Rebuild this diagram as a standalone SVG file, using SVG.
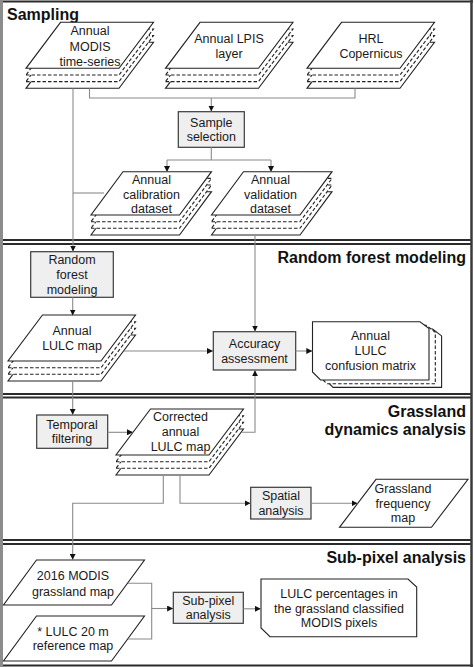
<svg xmlns="http://www.w3.org/2000/svg" xmlns:xlink="http://www.w3.org/1999/xlink" width="474" height="667" viewBox="0 0 474 667">
<style>
.frame{stroke:#2b2b2b;stroke-width:2;fill:none}
.title{font-family:"Liberation Sans",Arial,sans-serif;font-size:16px;font-weight:bold;fill:#111}
.t{font-family:"Liberation Sans",Arial,sans-serif;font-size:12.5px;fill:#1a1a1a;text-anchor:middle}
.box{fill:#efefef;stroke:#3a3a3a;stroke-width:1.2}
.sol{fill:#fff;stroke:#222;stroke-width:1.1}
.dash{fill:#fff;stroke:#222;stroke-width:1.1;stroke-dasharray:3.5 2}
.con{fill:none;stroke:#8a8a8a;stroke-width:1.1}
.arr{marker-end:url(#ah)}
</style>
<defs>
<marker id="ah" markerUnits="userSpaceOnUse" markerWidth="7" markerHeight="6" refX="6" refY="3" orient="auto">
<path d="M0,0 L6,3 L0,6 Z" fill="#111"/>
</marker>
<polygon id="pgA" points="0,0 93,0 127.5,-46 34.5,-46"/>
<polygon id="pgB" points="0,0 88.5,0 120.5,-43.3 32,-43.3"/>
<path id="docA" d="M0,0 H107.5 L116.5,6.8 V58.3 H8 L0,50.3 Z"/>
</defs>

<g id="frame">
<rect x="0" y="0" width="474" height="667" fill="#fff"/>
<line class="frame" x1="0" y1="1.5" x2="473" y2="1.5" stroke-width="3"/>
<line class="frame" x1="0" y1="240" x2="472" y2="240"/>
<line class="frame" x1="0" y1="244" x2="472" y2="244"/>
<line class="frame" x1="0" y1="394" x2="472" y2="394"/>
<line class="frame" x1="0" y1="397.5" x2="472" y2="397.5"/>
<line class="frame" x1="0" y1="540" x2="472" y2="540"/>
<line class="frame" x1="0" y1="544" x2="472" y2="544"/>
<line class="frame" x1="0" y1="665.5" x2="473" y2="665.5"/>
<line x1="1.5" y1="0" x2="1.5" y2="667" stroke="#8c8c8c" stroke-width="3"/>
<line x1="471.5" y1="0" x2="471.5" y2="667" stroke="#3a3a3a" stroke-width="2.5"/>
</g>

<g id="titles">
<text class="title" x="7" y="20">Sampling</text>
<text class="title" x="466" y="263" text-anchor="end">Random forest modeling</text>
<text class="title" x="466" y="416.5" text-anchor="end">Grassland</text>
<text class="title" x="466" y="434.5" text-anchor="end">dynamics analysis</text>
<text class="title" x="466" y="563" text-anchor="end">Sub-pixel analysis</text>
</g>

<g id="modis-ts">
<use href="#pgA" x="26" y="88.3" class="sol"/>
<use href="#pgA" x="26" y="81.6" class="dash"/>
<use href="#pgA" x="26" y="75" class="dash"/>
<use href="#pgA" x="26" y="68.3" class="sol"/>
<text class="t" x="90" y="35">Annual</text>
<text class="t" x="90" y="50.5">MODIS</text>
<text class="t" x="90" y="65.5">time-series</text>
</g>

<g id="lpis">
<use href="#pgA" x="165.5" y="88.3" class="sol"/>
<use href="#pgA" x="165.5" y="81.6" class="dash"/>
<use href="#pgA" x="165.5" y="75" class="dash"/>
<use href="#pgA" x="165.5" y="68.3" class="sol"/>
<text class="t" x="229" y="43">Annual LPIS</text>
<text class="t" x="229" y="58">layer</text>
</g>

<g id="hrl">
<use href="#pgA" x="307" y="88.3" class="sol"/>
<use href="#pgA" x="307" y="81.6" class="dash"/>
<use href="#pgA" x="307" y="75" class="dash"/>
<use href="#pgA" x="307" y="68.3" class="sol"/>
<text class="t" x="371" y="43">HRL</text>
<text class="t" x="371" y="58">Copernicus</text>
</g>

<g id="sample-selection">
<rect class="box" x="178.3" y="111.7" width="66" height="35.6"/>
<text class="t" x="211.3" y="127">Sample</text>
<text class="t" x="211.3" y="141">selection</text>
</g>

<g id="calibration">
<use href="#pgB" x="91" y="235" class="sol"/>
<use href="#pgB" x="91" y="228.3" class="dash"/>
<use href="#pgB" x="91" y="221.7" class="dash"/>
<use href="#pgB" x="91" y="215" class="sol"/>
<text class="t" x="151.5" y="184">Annual</text>
<text class="t" x="151.5" y="198.5">calibration</text>
<text class="t" x="151.5" y="213">dataset</text>
</g>

<g id="validation">
<use href="#pgB" x="211.5" y="235" class="sol"/>
<use href="#pgB" x="211.5" y="228.3" class="dash"/>
<use href="#pgB" x="211.5" y="221.7" class="dash"/>
<use href="#pgB" x="211.5" y="215" class="sol"/>
<text class="t" x="270.5" y="184">Annual</text>
<text class="t" x="270.5" y="198.5">validation</text>
<text class="t" x="270.5" y="213">dataset</text>
</g>

<g id="rf-modeling">
<rect class="box" x="30.7" y="251.7" width="82.6" height="45.6"/>
<text class="t" x="72" y="264">Random</text>
<text class="t" x="72" y="279">forest</text>
<text class="t" x="72" y="293.5">modeling</text>
</g>

<g id="lulc-map">
<use href="#pgA" x="8" y="381" class="sol"/>
<use href="#pgA" x="8" y="374.3" class="dash"/>
<use href="#pgA" x="8" y="367.7" class="dash"/>
<use href="#pgA" x="8" y="361" class="sol"/>
<text class="t" x="72" y="335">Annual</text>
<text class="t" x="72" y="350">LULC map</text>
</g>

<g id="accuracy">
<rect class="box" x="213.3" y="331.7" width="82.4" height="38.3"/>
<text class="t" x="254.5" y="348">Accuracy</text>
<text class="t" x="254.5" y="363">assessment</text>
</g>

<g id="confusion">
<use href="#docA" x="325.1" y="329.1" class="sol"/>
<use href="#docA" x="318.8" y="325.4" class="dash"/>
<use href="#docA" x="312.5" y="321.7" class="sol"/>
<text class="t" x="370.5" y="340">Annual</text>
<text class="t" x="370.5" y="355">LULC</text>
<text class="t" x="370.5" y="370">confusion matrix</text>
</g>

<g id="temporal">
<rect class="box" x="36.7" y="415" width="71" height="33.3"/>
<text class="t" x="72" y="428.5">Temporal</text>
<text class="t" x="72" y="443">filtering</text>
</g>

<g id="corrected">
<use href="#pgA" x="116" y="475" class="sol"/>
<use href="#pgA" x="116" y="468.3" class="dash"/>
<use href="#pgA" x="116" y="461.7" class="dash"/>
<use href="#pgA" x="116" y="455" class="sol"/>
<text class="t" x="180.5" y="420.5">Corrected</text>
<text class="t" x="180.5" y="435.5">annual</text>
<text class="t" x="180.5" y="450.5">LULC map</text>
</g>

<g id="spatial">
<rect class="box" x="250.7" y="487.3" width="60.3" height="31.7"/>
<text class="t" x="281" y="500">Spatial</text>
<text class="t" x="281" y="514.5">analysis</text>
</g>

<g id="frequency">
<polygon class="sol" points="339.5,527.3 431.5,527.3 468,479.3 376,479.3"/>
<text class="t" x="403" y="493">Grassland</text>
<text class="t" x="403" y="507.5">frequency</text>
<text class="t" x="403" y="522">map</text>
</g>

<g id="modis-2016">
<polygon class="sol" points="3.5,605 111.5,605 144.5,560 36.5,560"/>
<text class="t" x="73" y="580">2016 MODIS</text>
<text class="t" x="73" y="595.5">grassland map</text>
</g>

<g id="reference">
<polygon class="sol" points="3.5,661 111.5,661 144.5,616 36.5,616"/>
<text class="t" x="73" y="635.5">* LULC 20 m</text>
<text class="t" x="73" y="650">reference map</text>
</g>

<g id="subpixel">
<rect class="box" x="173.3" y="592.3" width="70" height="31"/>
<text class="t" x="208.3" y="604.5">Sub-pixel</text>
<text class="t" x="208.3" y="618.5">analysis</text>
</g>

<g id="percentages">
<path class="sol" d="M261,579 H408 L416.7,587 V636.7 H270 L261,628 Z"/>
<text class="t" x="339" y="598">LULC percentages in</text>
<text class="t" x="339" y="612.5">the grassland classified</text>
<text class="t" x="339" y="627">MODIS pixels</text>
</g>

<g id="connectors">
<path class="con arr" d="M73,88.5 V251.5"/>
<path class="con" d="M89.5,88.5 V98 H355 V88.5"/>
<path class="con arr" d="M211.3,98 V111.5"/>
<path class="con" d="M211.3,147.3 V160 M167,160 H271"/>
<path class="con arr" d="M167,160 V172"/>
<path class="con arr" d="M271,160 V172"/>
<path class="con" d="M104,193 H73"/>
<path class="con arr" d="M255,235.2 V331.5"/>
<path class="con arr" d="M72.7,297.3 V315.5"/>
<path class="con arr" d="M124,351 H213"/>
<path class="con arr" d="M72.7,381.2 V414.8"/>
<path class="con arr" d="M295.7,351 H312.3"/>
<path class="con arr" d="M107.7,432.3 H133"/>
<path class="con arr" d="M242,432.3 H255 V370.2"/>
<path class="con arr" d="M163.3,475.2 V503.3 H72.7 V559.8"/>
<path class="con arr" d="M180,475.2 V503.3 H250.5"/>
<path class="con arr" d="M311,503.3 H357.5"/>
<path class="con" d="M128,583.3 H151.7 V639 H128"/>
<path class="con arr" d="M151.7,608.5 H173.1"/>
<path class="con arr" d="M243.3,608.8 H260.8"/>
</g>
</svg>
